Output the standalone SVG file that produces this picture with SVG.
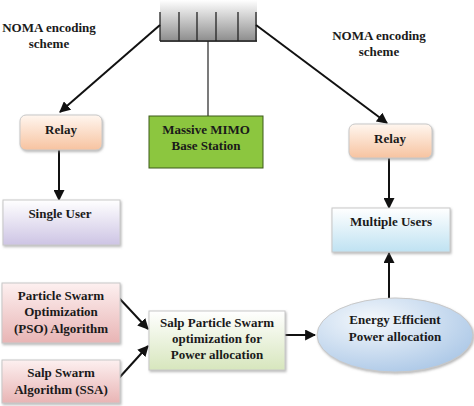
<svg xmlns="http://www.w3.org/2000/svg" width="474" height="406" viewBox="0 0 474 406">
<style>
text{font-family:'Liberation Serif','DejaVu Serif',serif;font-weight:bold;font-size:13px;fill:#1a1a1a;text-anchor:middle}
.box{stroke:#c8c8c8;stroke-width:1;filter:url(#sh)}
.ln{stroke:#111;stroke-width:2;fill:none;marker-end:url(#ah)}
.tick{stroke:#222;stroke-width:1.3}
</style>
<defs>
<filter id="sh" x="-10%" y="-10%" width="120%" height="130%"><feDropShadow dx="1" dy="1.5" stdDeviation="1" flood-color="#888" flood-opacity="0.6"/></filter>
<marker id="ah" viewBox="0 0 10 10" refX="9" refY="5" markerWidth="5.5" markerHeight="5.5" orient="auto"><path d="M0,0 L10,5 L0,10 z" fill="#111"/></marker>
<linearGradient id="gAnt" x1="0" y1="0" x2="0" y2="1"><stop offset="0" stop-color="#ffffff"/><stop offset="1" stop-color="#8a8a8a"/></linearGradient>
<linearGradient id="gPeach" x1="0" y1="0" x2="0" y2="1"><stop offset="0" stop-color="#fff6ef"/><stop offset="1" stop-color="#f7c3a0"/></linearGradient>
<linearGradient id="gLav" x1="0" y1="0" x2="0" y2="1"><stop offset="0" stop-color="#ffffff"/><stop offset="1" stop-color="#cdc4e4"/></linearGradient>
<linearGradient id="gBlue" x1="0" y1="0" x2="0" y2="1"><stop offset="0" stop-color="#ffffff"/><stop offset="1" stop-color="#bfe2f2"/></linearGradient>
<linearGradient id="gPink" x1="0" y1="0" x2="0" y2="1"><stop offset="0" stop-color="#fdf0f0"/><stop offset="1" stop-color="#e8b4b4"/></linearGradient>
<linearGradient id="gGreen" x1="0" y1="0" x2="0" y2="1"><stop offset="0" stop-color="#ffffff"/><stop offset="1" stop-color="#d7e6bd"/></linearGradient>
<radialGradient id="gEll" cx="0.35" cy="0.3" r="0.8"><stop offset="0" stop-color="#f4f8fc"/><stop offset="1" stop-color="#a9c6e6"/></radialGradient>
</defs>

<g id="antenna">
<rect x="160" y="0" width="97" height="42" fill="url(#gAnt)"/>
<line class="tick" x1="160" y1="12" x2="160" y2="41"/>
<line class="tick" x1="179" y1="12" x2="179" y2="41"/>
<line class="tick" x1="197" y1="12" x2="197" y2="41"/>
<line class="tick" x1="216" y1="12" x2="216" y2="41"/>
<line class="tick" x1="238" y1="12" x2="238" y2="41"/>
<line class="tick" x1="256" y1="12" x2="256" y2="41"/>
<line class="tick" x1="160" y1="41" x2="257" y2="41"/>
</g>

<g id="labels">
<text x="49" y="32">NOMA encoding</text>
<text x="49" y="48">scheme</text>
<text x="379" y="40">NOMA encoding</text>
<text x="379" y="56">scheme</text>
</g>

<g id="connectors">
<line x1="208" y1="41" x2="208" y2="116" stroke="#222" stroke-width="1.2"/>
<line class="ln" x1="160" y1="25" x2="60" y2="112"/>
<line class="ln" x1="256" y1="25" x2="387" y2="123"/>
<line class="ln" x1="59" y1="150" x2="59" y2="200"/>
<line class="ln" x1="389" y1="158" x2="389" y2="208"/>
<line class="ln" x1="389" y1="298" x2="389" y2="253"/>
<line class="ln" x1="119" y1="298" x2="148" y2="329"/>
<line class="ln" x1="119" y1="378" x2="148" y2="346"/>
<line class="ln" x1="285" y1="335" x2="315" y2="335"/>
</g>

<g id="bs">
<rect x="149" y="116" width="114" height="52" fill="#8cc63f" stroke="#3d5a1a" stroke-width="1"/>
<text x="206" y="134">Massive MIMO</text>
<text x="206" y="150">Base Station</text>
</g>

<g id="relayL">
<rect class="box" x="20" y="115" width="82" height="35" rx="6" fill="url(#gPeach)" stroke="#f0c0a0"/>
<text x="61" y="134">Relay</text>
</g>

<g id="relayR">
<rect class="box" x="349" y="124" width="83" height="34" rx="6" fill="url(#gPeach)" stroke="#f0c0a0"/>
<text x="390" y="143">Relay</text>
</g>

<g id="single">
<rect class="box" x="3" y="200" width="117" height="45" fill="url(#gLav)"/>
<text x="60" y="218">Single User</text>
</g>

<g id="multi">
<rect class="box" x="332" y="208" width="118" height="44" fill="url(#gBlue)"/>
<text x="391" y="226">Multiple Users</text>
</g>

<g id="pso">
<rect class="box" x="2" y="283" width="118" height="60" fill="url(#gPink)"/>
<text x="61" y="300">Particle Swarm</text>
<text x="61" y="316">Optimization</text>
<text x="61" y="333">(PSO) Algorithm</text>
</g>

<g id="ssa">
<rect class="box" x="2" y="360" width="118" height="43" fill="url(#gPink)"/>
<text x="61" y="377">Salp Swarm</text>
<text x="61" y="394">Algorithm (SSA)</text>
</g>

<g id="spso">
<rect class="box" x="149" y="311" width="136" height="59" fill="url(#gGreen)"/>
<text x="217" y="327">Salp Particle Swarm</text>
<text x="217" y="343">optimization for</text>
<text x="217" y="359">Power allocation</text>
</g>

<g id="energy">
<ellipse class="box" cx="395" cy="335" rx="78" ry="37" fill="url(#gEll)" stroke="#9ab"/>
<text x="395" y="324">Energy Efficient</text>
<text x="395" y="341">Power allocation</text>
</g>
</svg>
